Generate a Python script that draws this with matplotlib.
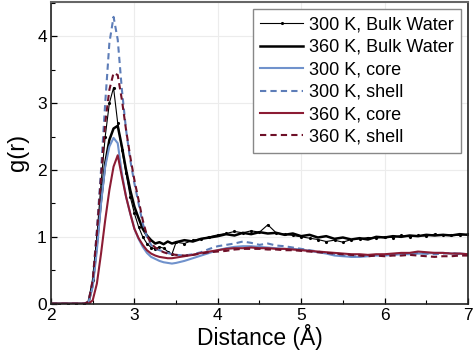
import matplotlib
matplotlib.use('Agg')
import matplotlib.pyplot as plt
from matplotlib.ticker import MultipleLocator
import numpy as np

plt.rcParams['font.family'] = ['Liberation Sans', 'DejaVu Sans']

#--------------------------------------------------------------
# Data: r in Angstrom, g(r)
r = [2.0, 2.1, 2.2, 2.3, 2.4, 2.45, 2.5, 2.55, 2.6, 2.65, 2.7, 2.75, 2.8, 2.85,
     2.9, 2.95, 3.0, 3.05, 3.1, 3.15, 3.2, 3.25, 3.3, 3.35, 3.4, 3.45, 3.5,
     3.6, 3.7, 3.8, 3.9, 4.0, 4.1, 4.2, 4.3, 4.4, 4.5, 4.6, 4.7, 4.8, 4.9,
     5.0, 5.1, 5.2, 5.3, 5.4, 5.5, 5.6, 5.7, 5.8, 5.9, 6.0, 6.1, 6.2, 6.3,
     6.4, 6.5, 6.6, 6.7, 6.8, 6.9, 7.0]

bulk_300 = [0, 0, 0, 0, 0, 0.03, 0.35, 1.0, 1.8, 2.5, 3.0, 3.23, 2.7, 2.3,
            1.95, 1.6, 1.35, 1.15, 1.0, 0.9, 0.84, 0.82, 0.85, 0.83, 0.78, 0.74, 0.92,
            0.9, 0.95, 0.97, 1.0, 1.03, 1.05, 1.08, 1.06, 1.09, 1.07, 1.18, 1.06, 1.04, 1.02,
            1.0, 0.98, 0.96, 0.93, 0.95, 0.92, 0.96, 0.97, 0.99, 0.98, 1.0, 0.99, 1.02, 1.0,
            1.02, 1.01, 1.04, 1.02, 1.03, 1.02, 1.04]

bulk_360 = [0, 0, 0, 0, 0, 0.02, 0.3, 0.9, 1.55, 2.1, 2.45, 2.62, 2.66, 2.35,
            2.0, 1.7, 1.45, 1.28, 1.12, 1.02, 0.95, 0.9, 0.92, 0.89, 0.93, 0.9, 0.92,
            0.95, 0.93, 0.97, 0.99, 1.01, 1.04, 1.02, 1.06, 1.04, 1.07, 1.05, 1.06, 1.03, 1.05,
            1.01, 1.03, 0.99, 1.01, 0.97, 0.99, 0.96, 0.98, 0.96, 1.0, 0.99, 1.01, 1.0, 1.02,
            1.01, 1.03, 1.02, 1.03, 1.02, 1.04, 1.03]

core_300 = [0, 0, 0, 0, 0, 0.02, 0.25, 0.8, 1.5, 2.05, 2.35, 2.48, 2.4, 1.95,
            1.6, 1.35, 1.12, 0.97, 0.85, 0.76, 0.7, 0.67, 0.64, 0.62, 0.61, 0.6, 0.61,
            0.64, 0.68, 0.72, 0.76, 0.8, 0.83, 0.85, 0.86, 0.86, 0.85, 0.84, 0.83, 0.82, 0.82,
            0.81, 0.79, 0.77, 0.75, 0.72, 0.71, 0.7, 0.7, 0.71, 0.72, 0.72, 0.73, 0.74, 0.74,
            0.75, 0.75, 0.76, 0.76, 0.75, 0.75, 0.74]

shell_300 = [0, 0, 0, 0, 0, 0.03, 0.35, 1.1, 2.0, 3.0, 3.9, 4.29, 3.95, 3.2,
             2.6, 2.15, 1.8, 1.5, 1.2, 1.0, 0.88, 0.82, 0.8, 0.78, 0.76, 0.74, 0.73,
             0.72, 0.74, 0.77, 0.82, 0.86, 0.88, 0.9, 0.93, 0.91, 0.88, 0.9, 0.87, 0.86, 0.84,
             0.82, 0.8, 0.78, 0.76, 0.74, 0.72, 0.71, 0.71, 0.72, 0.73, 0.73, 0.74, 0.75, 0.75,
             0.76, 0.75, 0.74, 0.75, 0.76, 0.74, 0.74]

core_360 = [0, 0, 0, 0, 0, 0, 0.05, 0.3, 0.75, 1.25, 1.7, 2.05, 2.22, 1.9,
            1.6, 1.35, 1.12, 0.98, 0.88, 0.8, 0.75, 0.72, 0.7, 0.69, 0.68, 0.68, 0.69,
            0.71, 0.73, 0.76, 0.78, 0.8, 0.82, 0.83, 0.83, 0.84, 0.83, 0.83, 0.82, 0.82, 0.81,
            0.8, 0.79, 0.78, 0.77, 0.76, 0.75, 0.74, 0.74, 0.73, 0.74, 0.74, 0.75, 0.76, 0.76,
            0.78, 0.77, 0.76, 0.76, 0.75, 0.75, 0.74]

shell_360 = [0, 0, 0, 0, 0, 0.03, 0.35, 1.05, 1.9, 2.7, 3.2, 3.45, 3.42, 3.05,
             2.6, 2.2, 1.85, 1.55, 1.25, 1.02, 0.9, 0.84, 0.8, 0.77, 0.75, 0.74, 0.73,
             0.72, 0.73, 0.75, 0.77, 0.78, 0.79, 0.81, 0.82, 0.82, 0.82, 0.81, 0.81, 0.8, 0.8,
             0.79, 0.78, 0.77, 0.76, 0.75, 0.74, 0.73, 0.72, 0.71, 0.72, 0.71, 0.72, 0.72, 0.73,
             0.72, 0.71, 0.7, 0.71, 0.71, 0.72, 0.72]

labels = ['300 K, Bulk Water', '360 K, Bulk Water', '300 K, core',
          '300 K, shell', '360 K, core', '360 K, shell']

#--------------------------------------------------------------
BLUE = '#7092cc'
BLUE_D = '#5d7db8'
RED = '#8c1c34'
RED_D = '#6e1028'

fig = plt.figure(figsize=(4.74, 3.55), dpi=100)
ax = fig.add_axes([0.1076, 0.1445, 0.8797, 0.8495])

ax.plot(r, bulk_300, color='black', lw=0.8, marker='.', ms=2.5, label=labels[0])
ax.plot(r, bulk_360, color='black', lw=1.8, label=labels[1])
ax.plot(r, core_300, color=BLUE, lw=1.5, label=labels[2])
ax.plot(r, shell_300, color=BLUE_D, lw=1.5, ls=(0, (3, 2)), label=labels[3])
ax.plot(r, core_360, color=RED, lw=1.5, label=labels[4])
ax.plot(r, shell_360, color=RED_D, lw=1.5, ls=(0, (3, 2)), label=labels[5])

ax.set_xlim(2, 7)
ax.set_ylim(0, 4.51)
ax.xaxis.set_major_locator(MultipleLocator(1))
ax.xaxis.set_minor_locator(MultipleLocator(0.5))
ax.yaxis.set_major_locator(MultipleLocator(1))
ax.yaxis.set_minor_locator(MultipleLocator(0.5))
ax.tick_params(which='both', direction='in', top=False, right=False, labelsize=12.5, pad=3)
ax.tick_params(which='major', length=4, width=0.9)
ax.tick_params(which='minor', length=3, width=0.8)
ax.grid(True, which='major', color='#ececec', lw=0.8)
ax.set_axisbelow(True)

for s in ['left', 'bottom', 'right']:
    ax.spines[s].set_color('#222222')
    ax.spines[s].set_linewidth(1.2)
ax.spines['top'].set_color('#666666')
ax.spines['top'].set_linewidth(1.5)

ax.set_xlabel('Distance (Å)', fontsize=16.5, labelpad=1)
ax.set_ylabel('g(r)', fontsize=17, labelpad=6)

leg = ax.legend(loc='upper right', fontsize=13, frameon=True, fancybox=False,
                edgecolor='#888888', framealpha=1, handlelength=2.4,
                handletextpad=0.3, labelspacing=0.3, borderpad=0.4,
                borderaxespad=0.4)
leg.get_frame().set_linewidth(1.0)

fig.savefig('out.png', dpi=100)
